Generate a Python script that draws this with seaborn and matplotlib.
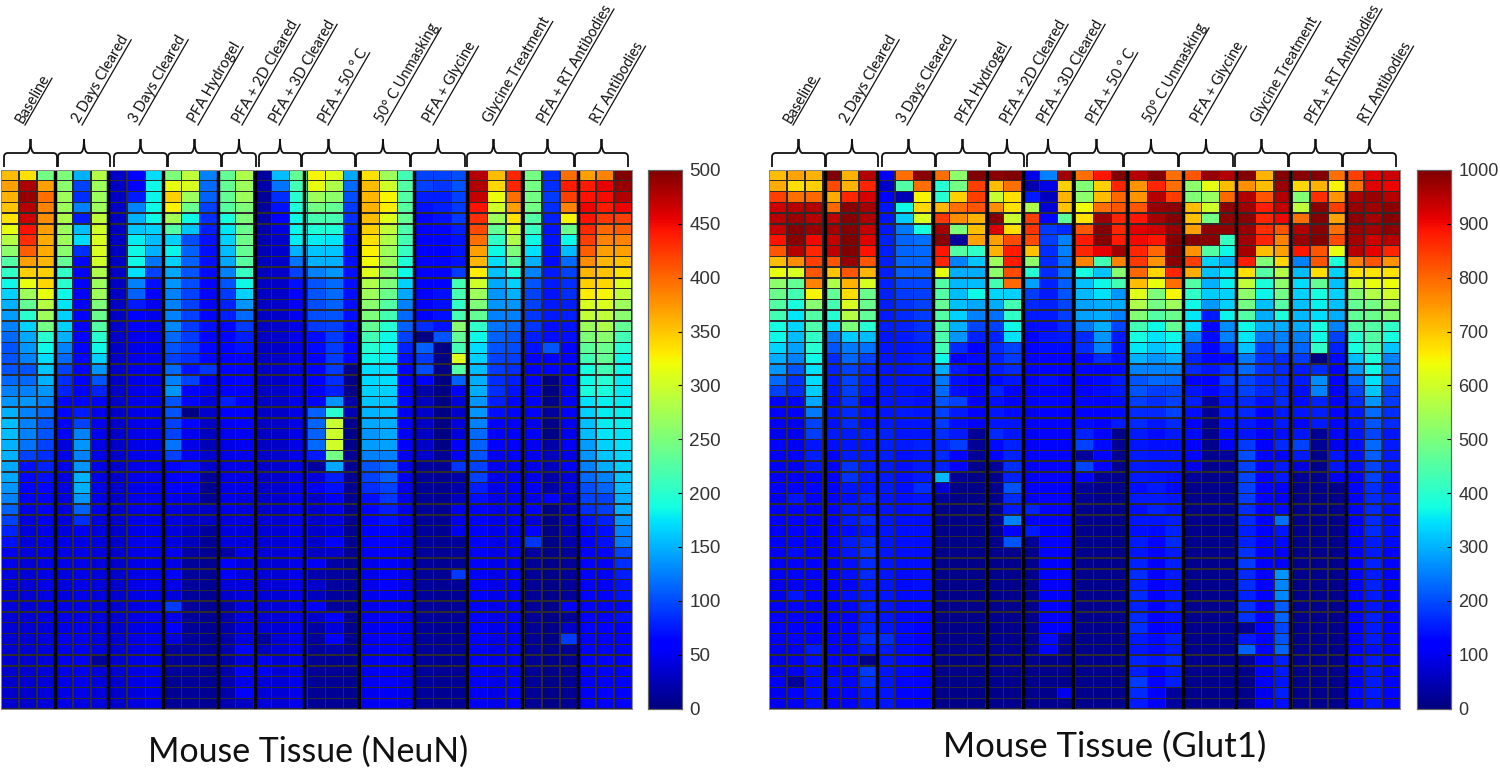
# encoding=utf-8
import numpy as np
import seaborn as sns
from matplotlib import pyplot as plt
from matplotlib import transforms as mtrans
from matplotlib.lines import Line2D
from matplotlib.patches import PathPatch
from matplotlib.path import Path

group_names = ['Baseline', '2 Days Cleared', '3 Days Cleared', 'PFA Hydrogel', 'PFA + 2D Cleared',
               'PFA + 3D Cleared', 'PFA + 50 ° C', '50° C Unmasking', 'PFA + Glycine',
               'Glycine Treatment', 'PFA + RT Antibodies', 'RT Antibodies']
neun_title = 'Mouse Tissue (NeuN)'
glut_title = 'Mouse Tissue (Glut1)'
neun_ticks = [0, 50, 100, 150, 200, 250, 300, 350, 400, 450, 500]
glut_ticks = [0, 100, 200, 300, 400, 500, 600, 700, 800, 900, 1000]

# NeuN, one list per column
neun_baseline = [
    [355,370,360,350,335,315,285,260,225,205, 185,165,150,140,125,115,105,105,105,115, 125,135,150,155,155,150,150,145,145,135, 125,110,95,80,70,50,48,42,40,38, 40,38,38,37,36,36,35,35,35,35],
    [335,480,490,475,465,445,430,405,370,345, 315,270,235,200,165,145,135,125,105,115, 125,135,125,125,125,120,95,70,65,55, 52,45,42,40,40,40,38,38,38,38, 38,38,38,37,37,37,36,36,35,35],
    [245,370,395,385,380,370,365,365,358,345, 340,315,285,270,245,200,185,170,160,150, 135,125,115,105,105,95,85,80,70,65, 55,55,50,45,45,45,45,45,45,43, 43,43,42,42,42,42,41,41,40,40]]
neun_2d = [
    [250,258,270,270,280,270,270,258,235,205, 200,185,175,165,165,150,125,115,95,85, 80,65,65,60,55,42,45,45,42,42, 42,42,42,42,45,45,45,42,42,42, 45,45,45,48,48,48,45,45,45,45],
    [150,95,85,125,75,155,170,85,65,60, 60,55,55,55,55,55,55,55,55,55, 60,65,75,95,125,135,125,135,150,150, 135,110,85,50,45,45,45,45,45,45, 45,45,48,48,50,50,48,48,46,44],
    [285,270,270,270,290,300,305,305,300,280, 270,270,250,240,225,200,185,165,135,105, 80,60,50,50,50,45,45,45,45,45, 45,45,42,42,42,42,42,42,42,42, 42,42,42,42,42,12,40,42,42,42]]
neun_3d = [
    [33,30,30,30,30,30,30,30,30,30, 30,30,30,30,32,32,32,32,32,32, 32,32,32,32,33,33,33,34,34,34, 34,34,35,35,35,35,35,35,35,36, 36,36,36,36,36,36,36,36,35,35],
    [62,55,75,125,150,160,178,185,185,172, 125,110,75,60,52,48,45,45,45,45, 45,45,45,45,45,45,45,45,45,45, 45,45,45,45,45,45,45,45,45,44, 44,44,44,43,43,43,43,43,42,42],
    [170,185,182,185,185,165,155,150,120,95, 70,55,50,47,47,47,47,47,47,47, 47,47,47,47,47,47,47,47,47,47, 47,47,47,47,47,47,47,47,47,47, 47,47,47,47,47,47,47,47,47,47]]
neun_hydrogel = [
    [250,315,345,328,275,225,165,182,165,145, 135,125,125,125,130,115,105,95,115,125, 135,105,105,95,95,120,95,65,60,55, 48,42,42,42,42,50,45,55,45,40, 90,45,55,40,15,12,12,8,8,10],
    [290,305,270,240,185,160,100,110,110,105, 100,95,95,95,90,90,90,85,72,95, 60,65,3,65,50,45,50,70,60,50, 42,35,35,30,28,16,12,12,12,12, 12,12,12,12,12,12,12,12,12,12],
    [125,115,110,95,85,78,72,70,70,68, 65,65,65,65,70,65,65,65,88,50, 45,40,35,30,28,25,35,35,12,8, 10,30,30,15,10,8,8,8,8,8, 8,8,8,8,8,8,8,8,8,8]]
neun_pfa_2d = [
    [235,235,235,228,190,175,165,155,145,125, 105,90,80,78,65,65,65,60,65,60, 60,78,55,52,50,45,45,45,45,45, 45,45,42,42,42,16,55,58,40,35, 18,20,20,18,20,18,20,20,20,22],
    [280,270,270,250,250,240,242,235,228,208, 185,165,135,115,90,78,72,65,65,65, 60,55,62,55,52,50,48,46,45,45, 42,42,42,42,42,45,42,42,42,42, 42,42,42,42,65,42,55,48,55,30]]
neun_pfa_3d = [
    [15,18,12,15,18,20,22,25,28,28, 30,30,30,30,30,30,30,30,30,30, 30,30,30,30,30,30,32,32,32,32, 35,35,38,38,38,38,38,38,38,38, 38,38,38,15,28,50,52,40,40,40],
    [155,120,85,72,55,42,35,35,32,32, 32,32,32,32,32,32,32,32,32,32, 32,32,32,32,32,32,34,34,34,36, 36,36,36,38,38,38,38,38,38,38, 38,38,38,38,38,38,38,38,38,38],
    [235,215,200,195,185,183,178,150,120,95, 70,55,52,50,45,45,45,45,45,45, 45,45,45,45,45,46,46,46,48,48, 48,48,48,48,48,48,48,48,48,48, 48,48,48,48,48,48,48,48,48,48]]
neun_pfa_50 = [
    [325,315,270,245,218,195,178,160,150,125, 105,105,100,100,90,68,68,60,58,55, 52,55,110,112,110,115,75,15,40,50, 35,35,35,35,35,30,52,20,35,28, 52,35,18,15,12,10,10,10,10,10],
    [310,280,260,235,218,195,175,160,150,135, 115,115,110,105,95,90,90,90,90,85, 78,135,200,295,298,300,245,145,78,70, 52,45,42,42,58,35,18,15,15,15, 12,62,40,55,20,10,10,10,10,10],
    [145,115,100,90,85,78,72,70,70,70, 70,70,70,70,70,65,65,60,5,5, 5,18,25,8,5,5,8,8,8,8, 8,8,8,8,8,8,8,8,8,8, 8,8,8,8,8,8,8,8,8,8]]
neun_unmask = [
    [335,355,358,360,355,345,335,328,322,310, 280,270,258,250,235,215,198,185,170,168, 165,160,152,145,135,140,125,105,95,85, 70,65,60,55,55,52,48,48,48,48, 48,50,50,50,50,50,50,50,50,50],
    [270,300,325,330,310,290,280,270,268,258, 250,240,225,215,198,185,182,178,170,170, 165,160,155,148,145,142,125,115,110,95, 88,78,72,65,60,55,55,55,55,52, 52,52,52,52,52,52,52,52,52,52],
    [215,225,225,228,235,222,215,208,195,185, 165,145,125,115,110,95,80,70,62,62, 55,55,50,55,52,55,48,48,48,45, 45,45,45,45,45,45,45,45,45,45, 45,45,45,45,45,45,45,45,45,45]]
neun_pfa_gly = [
    [95,95,78,72,65,60,60,58,55,55, 60,55,60,60,85,3,110,90,100,55, 18,28,35,30,30,32,35,15,12,12, 12,12,12,12,12,12,12,12,12,12, 12,12,12,12,12,12,12,12,12,12],
    [95,88,78,78,72,65,65,55,60,60, 60,70,70,70,72,105,3,3,3,3, 3,3,2,3,3,3,8,8,8,8, 8,8,8,8,8,8,8,8,8,8, 8,8,8,8,8,8,8,8,8,8],
    [100,105,95,90,90,78,72,72,72,90, 215,218,205,218,258,235,215,310,225,110, 55,40,35,40,40,58,52,88,18,18, 28,45,45,50,12,12,12,90,10,10, 10,10,10,10,10,10,10,10,10,10]]
neun_gly = [
    [475,478,470,445,430,415,395,370,358,330, 300,270,250,235,205,185,170,165,155,148, 148,135,135,125,115,110,105,95,95,78, 70,60,60,58,58,55,55,55,55,55, 55,55,55,55,55,55,55,54,52,52],
    [355,340,318,300,270,235,205,185,170,158, 145,135,135,125,120,110,102,95,90,85, 85,78,70,60,60,55,50,48,46,46, 45,45,45,45,45,45,45,45,45,45, 45,45,45,45,45,45,45,45,45,45],
    [435,435,395,370,335,300,280,250,225,190, 165,150,135,125,115,105,100,92,85,78, 72,65,65,62,62,55,55,50,50,50, 50,50,50,50,50,50,50,50,50,50, 50,50,50,50,50,50,50,52,55,55]]
neun_pfa_rt = [
    [245,245,245,245,225,208,185,172,150,125, 105,95,95,88,88,78,72,60,55,60, 60,55,55,48,55,50,50,46,46,52, 45,62,38,60,88,14,10,10,10,10, 10,10,10,10,10,10,10,10,10,10],
    [85,85,90,85,78,72,72,72,68,75, 75,72,75,75,70,70,105,55,65,3, 3,5,15,5,5,18,28,28,18,18, 60,5,5,5,5,5,5,5,5,5, 5,5,5,5,5,5,5,5,5,5],
    [395,440,420,385,325,240,185,155,115,95, 85,85,78,78,72,70,65,60,60,60, 60,55,55,50,50,52,46,55,40,40, 35,30,30,26,22,12,12,12,12,12, 55,12,35,90,10,10,10,10,10,10]]
neun_rt = [
    [370,440,445,452,445,432,420,405,380,358, 345,330,305,292,270,250,232,215,190,185, 190,172,165,158,155,140,135,125,115,100, 95,85,72,65,60,60,60,58,58,58, 56,56,56,55,55,55,54,54,52,52],
    [385,455,448,440,425,400,385,370,358,350, 340,325,308,290,280,258,240,235,215,198, 190,180,178,178,175,165,160,148,125,112, 95,92,80,70,70,65,60,58,58,56, 56,56,56,55,55,55,55,55,55,55],
    [500,490,478,452,420,405,385,370,352,335, 310,290,270,258,235,215,198,185,185,178, 178,178,180,180,175,172,168,165,160,155, 148,148,135,125,122,95,85,78,72,72, 65,70,60,58,55,55,55,55,55,55]]

# Glut1
glut_baseline = [
    [710,730,840,930,950,940,890,820,710,630, 520,480,450,430,375,370,335,295,270,230, 190,120,110,105,100,130,105,110,105,110, 100,110,110,105,110,105,105,105,95,100, 105,110,110,105,95,90,95,108,100,100],
    [735,675,790,950,975,995,990,950,760,610, 470,430,380,350,335,310,285,250,210,175, 165,120,115,100,100,105,110,100,105,125, 145,125,125,125,125,135,125,125,105,145, 125,110,110,125,95,100,100,25,125,105],
    [720,690,800,955,950,975,900,870,840,820, 770,650,515,450,445,410,395,370,345,340, 325,290,245,190,185,145,155,145,125,130, 120,120,120,120,120,120,120,120,120,120, 120,120,120,120,150,140,140,135,140,140]]
glut_2d = [
    [1000,830,730,800,945,965,940,945,820,700, 560,470,430,395,340,245,210,165,160,150, 145,135,145,140,150,140,120,120,115,120, 120,120,120,120,120,120,120,120,120,120, 120,120,120,120,125,120,125,140,125,110],
    [720,720,870,990,995,995,1000,995,980,820, 720,675,610,570,500,325,245,225,190,190, 185,175,165,165,150,145,150,175,175,145, 140,150,150,135,150,145,140,140,130,140, 130,125,125,125,115,115,115,125,120,115],
    [955,870,925,965,960,940,915,890,820,715, 610,480,480,465,395,310,235,190,165,160, 150,120,145,140,160,145,150,155,150,145, 160,145,165,145,165,175,165,165,150,150, 160,155,160,170,150,15,180,170,150,145]]
glut_3d = [
    [110,70,110,145,145,150,160,155,155,155, 160,160,155,150,155,145,145,145,145,145, 145,145,145,150,160,155,155,150,150,150, 145,145,145,145,145,145,145,145,145,145, 145,145,145,170,150,145,145,145,145,145],
    [790,450,50,370,325,245,225,225,225,215, 195,180,175,165,160,150,145,145,145,145, 145,145,150,145,145,150,140,140,140,140, 140,140,140,140,140,140,140,135,135,135, 135,135,135,135,135,135,135,130,130,130],
    [990,790,650,680,610,375,235,230,225,215, 195,185,190,180,175,165,150,155,150,145, 140,140,145,145,145,160,145,150,150,170, 145,145,140,140,140,140,140,140,140,135, 135,130,125,125,125,125,125,125,125,125]]
glut_hydrogel = [
    [790,395,395,715,850,965,990,885,870,630, 450,450,470,450,450,445,430,370,295,245, 230,210,190,180,170,160,165,160,305,75, 25,10,10,10,10,10,10,10,10,10, 10,10,10,10,10,10,10,10,10,10],
    [520,490,690,790,760,500,25,450,250,295, 305,310,315,330,300,270,165,115,150,140, 140,190,150,140,150,185,110,115,20,10, 10,10,10,10,10,10,10,10,10,10, 10,10,10,10,10,10,10,10,10,10],
    [1000,840,840,820,720,710,740,410,320,295, 310,370,290,250,195,160,115,135,115,115, 115,105,125,110,20,20,20,15,10,10, 10,10,10,10,10,10,10,10,10,10, 10,10,10,10,10,10,10,10,10,10]]
glut_pfa_2d = [
    [990,710,590,760,995,920,740,720,540,520, 430,335,295,235,190,160,165,155,150,135, 160,140,145,145,165,135,110,25,15,12, 12,12,12,12,12,12,12,12,12,12, 12,12,12,12,12,12,12,12,12,12],
    [1000,790,670,670,590,675,830,880,880,830, 800,330,430,410,370,345,190,180,165,145, 125,115,135,145,145,160,160,170,160,210, 165,150,250,115,210,12,12,12,12,12, 12,12,12,12,12,12,12,12,12,12]]
glut_pfa_3d = [
    [90,40,150,560,840,855,830,705,520,395, 285,185,165,150,140,125,125,115,110,105, 110,110,100,110,115,105,110,108,108,110, 105,160,110,150,20,15,15,15,15,15, 15,15,15,15,15,15,15,15,15,15],
    [250,90,55,75,130,180,185,170,165,165, 160,150,160,150,140,145,135,125,125,140, 125,130,125,125,125,130,120,125,125,125, 125,125,125,125,125,130,110,115,115,115, 115,115,110,135,130,15,15,15,15,15],
    [970,690,720,700,465,165,250,250,235,235, 215,210,195,185,165,150,135,125,115,110, 115,110,110,125,120,120,120,125,120,120, 120,120,120,120,115,115,115,110,105,105, 105,105,110,20,15,12,12,12,100,15]]
glut_pfa_50 = [
    [790,510,520,640,670,820,880,870,770,375, 315,305,285,285,245,165,165,125,130,115, 120,130,125,135,160,190,25,195,110,25, 20,15,15,15,15,15,15,15,15,15, 15,15,15,15,15,15,15,15,15,15],
    [885,690,710,790,975,995,995,910,430,320, 370,345,295,295,295,270,250,165,115,135, 135,125,125,115,130,135,115,115,20,15, 15,15,15,15,15,15,15,15,15,15, 15,15,15,15,15,15,15,15,15,15],
    [1000,870,800,820,870,870,880,970,770,515, 430,270,295,250,195,150,145,140,135,150, 145,135,135,150,15,20,12,12,12,12, 12,12,12,12,12,12,12,12,12,12, 12,12,12,12,12,12,12,12,12,12]]
glut_unmask = [
    [950,750,750,820,885,915,900,870,850,800, 710,620,560,510,430,375,355,300,250,210, 210,185,165,165,150,145,150,150,150,140, 150,140,145,140,150,145,160,170,160,165, 160,165,170,150,145,160,155,180,165,150],
    [995,870,950,980,965,930,885,800,750,680, 630,500,490,450,370,350,320,270,250,230, 185,170,165,145,135,140,145,145,145,150, 150,160,145,135,130,130,115,125,125,115, 110,125,125,135,135,145,115,125,115,105],
    [790,790,845,985,995,980,995,995,990,870, 790,650,540,480,470,370,345,295,250,225, 195,190,190,165,150,140,145,145,140,135, 145,145,155,160,165,150,155,150,140,145, 150,140,135,155,150,165,150,155,30,30]]
glut_pfa_gly = [
    [820,520,505,710,705,740,995,750,840,725, 450,410,370,355,345,250,190,160,165,120, 145,155,140,110,135,125,130,90,25,15, 15,15,15,15,15,15,15,15,15,15, 15,15,15,15,15,15,15,15,15,15],
    [980,625,535,600,490,985,990,450,330,315, 300,325,275,150,130,135,130,130,145,110, 130,30,20,15,15,15,15,15,15,15, 15,15,15,15,15,15,15,15,15,15, 15,15,15,15,15,15,15,15,15,15],
    [955,710,800,985,985,985,415,370,300,355, 360,330,330,365,265,250,185,135,175,185, 160,145,150,140,135,115,25,20,15,15, 15,15,15,15,15,15,15,15,15,15, 15,15,15,15,15,15,15,15,15,15]]
glut_gly = [
    [995,755,955,970,990,980,970,965,875,675, 580,520,490,450,370,355,320,245,230,195, 190,165,165,150,145,180,200,190,195,190, 185,170,165,155,160,175,180,165,170,160, 175,175,20,150,220,20,15,15,15,15],
    [720,710,820,875,870,860,870,710,505,450, 385,365,315,295,300,245,190,175,175,165, 165,140,125,130,115,115,130,130,125,115, 115,115,125,115,115,115,110,115,115,110, 120,120,120,120,115,120,115,115,100,110],
    [995,975,955,940,900,820,770,740,680,570, 520,490,450,385,295,250,235,165,165,170, 165,165,150,150,140,165,125,150,150,115, 125,135,235,145,135,115,115,270,255,260, 215,225,195,210,225,155,150,145,155,140]]
glut_pfa_rt = [
    [990,680,510,580,790,955,980,885,250,310, 340,330,315,305,295,250,225,180,150,150, 140,135,145,130,145,190,150,80,20,15, 15,15,15,15,15,15,15,15,15,15, 15,15,15,15,15,15,15,15,15,15],
    [995,720,860,990,995,990,995,820,820,675, 470,375,360,340,375,370,410,5,165,265, 250,160,155,150,20,20,15,15,15,15, 15,15,15,15,15,15,15,15,15,15, 15,15,15,15,15,15,15,15,15,15],
    [790,650,750,840,735,790,830,630,385,330, 315,330,315,295,250,190,160,135,120,125, 115,115,125,130,130,100,145,145,105,15, 15,15,15,15,15,15,15,15,15,15, 15,15,15,15,15,15,15,15,15,15]]
glut_rt = [
    [840,790,960,980,985,975,965,950,770,670, 590,510,470,465,450,395,375,310,270,230, 195,165,150,150,145,140,140,140,125,130, 125,130,125,130,130,125,125,130,130,130, 125,130,125,125,125,130,130,125,135,130],
    [915,915,975,970,965,965,930,910,820,670, 630,565,490,480,450,450,430,385,370,345, 320,270,230,210,195,230,215,195,190,170, 165,165,165,165,150,150,160,150,160,150, 145,155,150,150,140,150,150,150,150,145],
    [930,905,950,985,995,985,950,870,750,670, 635,600,540,510,410,375,320,250,245,230, 190,180,170,165,145,150,150,150,140,140, 150,140,140,140,135,125,115,110,110,110, 120,120,125,125,125,125,125,130,130,125]]

neun_groups = [neun_baseline, neun_2d, neun_3d, neun_hydrogel, neun_pfa_2d, neun_pfa_3d,
               neun_pfa_50, neun_unmask, neun_pfa_gly, neun_gly, neun_pfa_rt, neun_rt]
glut_groups = [glut_baseline, glut_2d, glut_3d, glut_hydrogel, glut_pfa_2d, glut_pfa_3d,
               glut_pfa_50, glut_unmask, glut_pfa_gly, glut_gly, glut_pfa_rt, glut_rt]

W, H = 1500, 769
fig = plt.figure(figsize=(W / 100, H / 100), dpi=100)
# everything drawn by hand around the maps is placed in image pixels
px = mtrans.Affine2D().scale(1 / W, -1 / H).translate(0, 1) + fig.transFigure


def add_axes_px(x0, y0, x1, y1):
    return fig.add_axes([x0 / W, 1 - y1 / H, (x1 - x0) / W, (y1 - y0) / H])


def brace(x0, x1):
    xm = (x0 + x1) / 2
    verts = [(x0, 167), (x0, 157), (x0, 153), (x0 + 4, 153), (xm - 4, 153), (xm, 153), (xm, 139),
             (xm, 153), (xm + 4, 153), (x1 - 4, 153), (x1, 153), (x1, 157), (x1, 167)]
    codes = [Path.MOVETO, Path.LINETO, Path.CURVE3, Path.CURVE3, Path.LINETO, Path.CURVE3, Path.CURVE3,
             Path.CURVE3, Path.CURVE3, Path.LINETO, Path.CURVE3, Path.CURVE3, Path.LINETO]
    fig.add_artist(PathPatch(Path(verts, codes), fill=False, ec='#111111', lw=1.3, transform=px))


def slanted_label(text, x, y):
    # text runs up at 60 degrees with a line under it
    ang = np.radians(60)
    t = fig.text(0, 0, text, fontsize=label_size, family='Lato', color='#111111')
    length = t.get_window_extent(fig.canvas.get_renderer()).width
    t.remove()
    fig.text(x - 2.5 * np.sin(ang), y - 2.5 * np.cos(ang), text, transform=px, rotation=60,
             rotation_mode='anchor', ha='left', va='baseline', fontsize=label_size, family='Lato',
             color='#111111')
    fig.add_artist(Line2D([x, x + length * np.cos(ang)], [y, y - length * np.sin(ang)],
                          transform=px, color='#111111', lw=0.9))


def draw_panel(groups, ticks, left, cbar_left, sep_px, brace_px, label_px, tick_size):
    columns = [col for group in groups for col in group]
    for i, col in enumerate(columns):
        assert len(col) == 50, (i, len(col))
    data = np.array(columns).T
    ax = add_axes_px(left, 170, left + 631, 709)
    cax = add_axes_px(cbar_left, 170, cbar_left + 33.5, 708.5)
    sns.heatmap(data, ax=ax, cbar_ax=cax, cmap='jet', vmin=ticks[0], vmax=ticks[-1],
                linewidths=0.3, linecolor='#2b2b2b', xticklabels=False, yticklabels=False,
                cbar_kws={'ticks': ticks})
    # soft, even grid lines instead of snapped ones
    mesh = ax.collections[0]
    mesh.set_antialiased(True)
    mesh.set_snap(False)
    ax.set_xlabel('')
    ax.set_ylabel('')
    for side in ax.spines.values():
        side.set_visible(True)
        side.set_color('#8a8a8a')
        side.set_linewidth(0.7)
    col_w = 631 / data.shape[1]
    ax.vlines([(p - left) / col_w for p in sep_px], 0, 50, color='black', lw=2.5)
    cax.tick_params(right=True, direction='in', length=3, width=0.8, labelsize=tick_size,
                    labelcolor='#333333', pad=5.5)
    for lab in cax.get_yticklabels():
        lab.set_family('Liberation Sans')
    for side in cax.spines.values():
        side.set_visible(True)
        side.set_color('#666666')
        side.set_linewidth(0.8)
    for (x0, x1) in brace_px:
        brace(x0, x1)
    for name, x in zip(group_names, label_px):
        slanted_label(name, x, 125)


label_size = 10.5

neun_sep = [55, 108, 163, 218, 255, 304, 359, 414, 467, 522, 578]
glut_sep = [825, 877, 933, 987, 1023, 1073, 1127, 1183, 1236, 1290, 1346]
neun_braces = [(4, 57), (58, 110), (114, 167), (168, 221), (222, 256), (259, 301),
               (302, 355), (356, 410), (411, 465), (467, 520), (521, 574), (575, 628)]
glut_braces = [(a + 768, b + 768) for a, b in neun_braces]
neun_label_x = [25, 82, 139, 198, 242, 279, 328, 385, 433, 493, 547, 600]
glut_label_x = [x + 768 for x in neun_label_x]

draw_panel(neun_groups, neun_ticks, 1, 648, neun_sep, neun_braces, neun_label_x, 13.6)
draw_panel(glut_groups, glut_ticks, 769, 1417, glut_sep, glut_braces, glut_label_x, 13)

fig.text(308, 752, neun_title, transform=px, ha='center', va='center', fontsize=24.4, family='Lato',
         color='#111111')
fig.text(1105, 747, glut_title, transform=px, ha='center', va='center', fontsize=25, family='Lato',
         color='#111111')

fig.savefig('out.png', dpi=100)
